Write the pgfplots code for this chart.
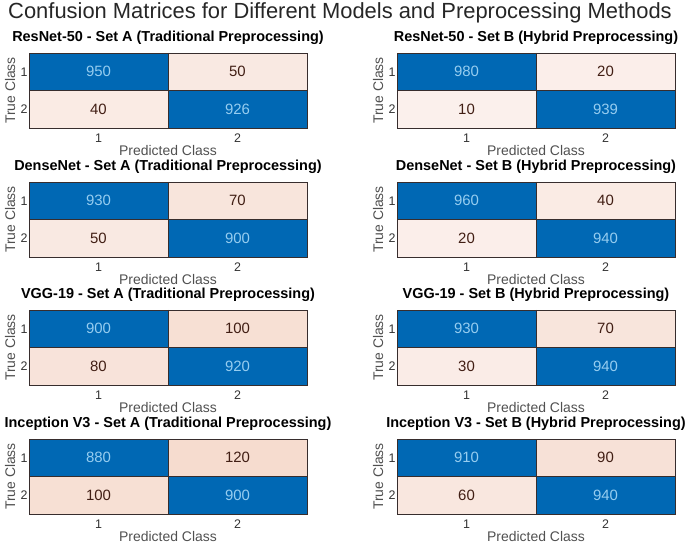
\documentclass[border=0pt]{standalone}
\usepackage{fontspec}
\setmainfont{Liberation Sans}
\usepackage{pgfplots}
\pgfplotsset{compat=1.18}

\definecolor{diagblue}{RGB}{0,104,180}
\definecolor{diagtxt}{RGB}{150,205,240}
\definecolor{offtxt}{RGB}{65,30,20}
\definecolor{labgray}{RGB}{80,80,80}
\definecolor{tickgray}{RGB}{50,50,50}
\definecolor{framec}{RGB}{55,45,45}

\pgfplotsset{
  cmstyle/.style={
    width=278bp, height=75bp, scale only axis,
    anchor=north west,
    xmin=0.5, xmax=2.5, ymin=0.5, ymax=2.5,
    y dir=reverse,
    xtick={1,2}, ytick={1,2},
    major tick length=0pt,
    axis on top,
    axis line style={draw=framec, line width=0.8bp},
    extra x ticks={1.5}, extra y ticks={1.5},
    extra x tick labels={}, extra y tick labels={},
    extra tick style={grid=major, major grid style={draw=framec, line width=0.6bp}},
    colormap={cmoff}{rgb255(0cm)=(252,242,239) rgb255(12cm)=(246,220,207)
      rgb255(13cm)=(0,104,180) rgb255(100cm)=(0,104,180)},
    point meta min=0, point meta max=1000,
    /pgf/number format/assume math mode=true,
    ticklabel style={font=\fontsize{12.5}{12.5}\selectfont, text=tickgray},
    xticklabel style={anchor=center, yshift=-10bp},
    yticklabel style={anchor=center, xshift=-5bp},
    xlabel={Predicted Class}, ylabel={True Class},
    label style={font=\fontsize{14}{14}\selectfont, text=labgray, inner sep=0pt},
    xlabel style={at={(axis description cs:0.5,-0.30)}, anchor=center},
    ylabel style={at={(axis description cs:-0.068,0.5)}, anchor=center},
    title style={at={(axis description cs:0.5,1.125)}, anchor=center, inner sep=0pt,
      font=\bfseries\fontsize{14.5}{14.5}\selectfont, text=black},
  },
  celltext/.style={only marks, mark=*, mark size=0pt,
    mark options={draw=none, fill=none},
    nodes near coords, point meta=explicit symbolic,
    nodes near coords style={anchor=center, font=\fontsize{15}{15}\selectfont}},
}

% #1 x, #2 y (north west corner), #3 title, #4..#7 cells (1,1) (2,1) (1,2) (2,2)
\newcommand{\cmat}[7]{%
\begin{axis}[cmstyle, at={(#1,#2)}, title={#3}]
  \addplot[matrix plot*, mesh/cols=2, point meta=explicit]
    table[row sep=\\, meta=v]{x y v\\ 1 1 #4\\ 2 1 #5\\ 1 2 #6\\ 2 2 #7\\};
  \addplot[celltext, nodes near coords style={text=diagtxt}]
    table[row sep=\\, meta=v]{x y v\\ 1 1 #4\\ 2 2 #7\\};
  \addplot[celltext, nodes near coords style={text=offtxt}]
    table[row sep=\\, meta=v]{x y v\\ 2 1 #5\\ 1 2 #6\\};
\end{axis}}

\begin{document}
\begin{tikzpicture}
\path[use as bounding box] (0,0) rectangle (685bp,546bp);
\node[font=\fontsize{22}{22}\selectfont, text=black!85] at (340bp,533bp)
  {Confusion Matrices for Different Models and Preprocessing Methods};

\cmat{29bp}{493bp}{ResNet-50 - Set A (Traditional Preprocessing)}{950}{50}{40}{926}
\cmat{397bp}{493bp}{ResNet-50 - Set B (Hybrid Preprocessing)}{980}{20}{10}{939}
\cmat{29bp}{364bp}{DenseNet - Set A (Traditional Preprocessing)}{930}{70}{50}{900}
\cmat{397bp}{364bp}{DenseNet - Set B (Hybrid Preprocessing)}{960}{40}{20}{940}
\cmat{29bp}{236bp}{VGG-19 - Set A (Traditional Preprocessing)}{900}{100}{80}{920}
\cmat{397bp}{236bp}{VGG-19 - Set B (Hybrid Preprocessing)}{930}{70}{30}{940}
\cmat{29bp}{107bp}{Inception V3 - Set A (Traditional Preprocessing)}{880}{120}{100}{900}
\cmat{397bp}{107bp}{Inception V3 - Set B (Hybrid Preprocessing)}{910}{90}{60}{940}
\end{tikzpicture}
\end{document}
